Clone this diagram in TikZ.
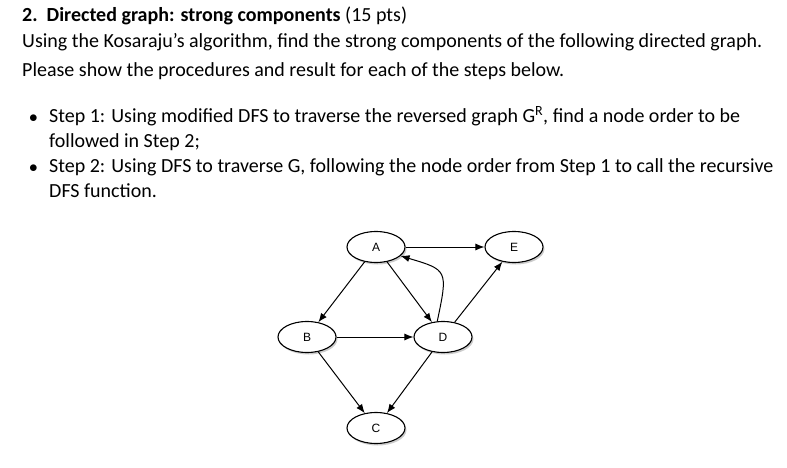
\documentclass[tikz,border=0pt]{standalone}
\usepackage{fontspec}
\setmainfont{Carlito}
\newfontfamily\helv{Liberation Sans}
\usetikzlibrary{shapes.geometric,arrows.meta,shadows}
\begin{document}
\begin{tikzpicture}[x=1pt,y=-1pt,
  txt/.style={anchor=base west,inner sep=0,font=\fontsize{20}{24}\selectfont},
  vert/.style={ellipse,draw,line width=1.1pt,fill=white,minimum width=58,minimum height=31,inner sep=0,font=\helv\fontsize{12}{14}\selectfont,drop shadow={opacity=0.4,shadow xshift=1.5pt,shadow yshift=-2pt}},
  edge/.style={-{Latex[length=9pt,width=7pt]},line width=1pt}]
\useasboundingbox (0,0) rectangle (787,468);
\node[txt] (t1) at (22,22) {\textbf{2.\ \ Directed graph: strong components} (15 pts)};
\node[txt] (t2) at (22,48) {Using the Kosaraju’s algorithm, find the strong components of the following directed graph.};
\node[txt] (t3) at (22,77) {Please show the procedures and result for each of the steps below.};
\node[txt] (b1) at (29,123) {\fontsize{16}{20}\selectfont$\bullet$};
\node[txt] (t4) at (49,123) {Step 1: Using modified DFS to traverse the reversed graph G\textsuperscript{R}, find a node order to be};
\node[txt] (t5) at (49,148) {followed in Step 2;};
\node[txt] (b2) at (29,172) {\fontsize{16}{20}\selectfont$\bullet$};
\node[txt] (t6) at (49,172) {Step 2: Using DFS to traverse G, following the node order from Step 1 to call the recursive};
\node[txt] (t7) at (49,197) {DFS function.};
\node[vert] (A) at (376,247) {A};
\node[vert] (E) at (514,247) {E};
\node[vert] (B) at (307,337) {B};
\node[vert] (D) at (443,337) {D};
\node[vert] (C) at (376,428) {C};
\draw[edge] (A) -- (E);
\draw[edge] (A) -- (B);
\draw[edge] (A) -- (D);
\draw[edge] (B) -- (D);
\draw[edge] (B) -- (C);
\draw[edge] (D) -- (C);
\draw[edge] (D) -- (E);
\draw[edge] (D.110) .. controls (448,270) .. (A.-20);
\end{tikzpicture}
\end{document}
